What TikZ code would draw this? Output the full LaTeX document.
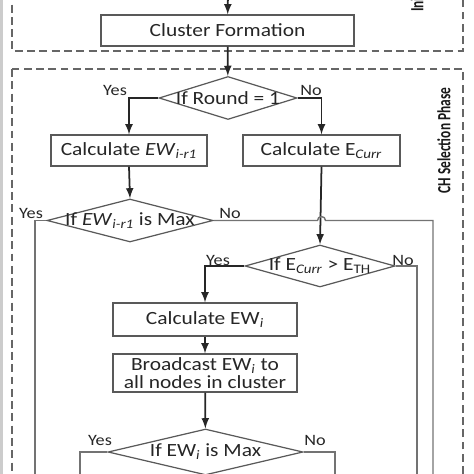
\documentclass[tikz,border=0pt]{standalone}
\usepackage{fontspec}
\setmainfont{Carlito}[FakeStretch=1.15]
\newfontfamily\phasefont{Carlito}[FakeStretch=0.72]
\usetikzlibrary{shapes.geometric, arrows, positioning, calc}

\begin{document}
\begin{tikzpicture}[
  font=\fontsize{10.6}{10.4}\selectfont,
  procbox/.style={draw=black!65, line width=0.7pt, rectangle, minimum height=0.62cm, inner sep=1pt, align=center, text=black!85},
  decision/.style={draw=black!65, line width=0.7pt, diamond, inner sep=0pt, text=black!85},
  yn/.style={font=\fontsize{9}{9}\selectfont, text=black!85},
  phasetag/.style={font=\phasefont\bfseries\fontsize{10.6}{11}\selectfont, text=black!90},
  flow/.style={->, >=latex, line width=1pt, black!85},
  branch/.style={draw=black!55, line width=0.8pt},
  phase/.style={draw=black!60, dash pattern=on 4.5pt off 2.5pt, line width=0.6pt}]
\useasboundingbox (0,0) rectangle (9.48,-9.48);
\fill[black!20] (0,0) rectangle (0.06,-9.48);

% Phase frames
\draw[phase] (0.24,0.4) rectangle (9.26,-1.02);
\draw[phase] (0.24,-1.38) rectangle (9.26,-9.9);
\node[phasetag, rotate=90, anchor=west] (initlbl) at (8.34,-0.36) {Initialization Phase};
\node[phasetag, rotate=90] (chlbl) at (8.88,-2.81) {CH Selection Phase};

% Initialization
\coordinate (topin) at (4.56,0.2);
\node[procbox, minimum width=5.06cm] (cluster) at (4.55,-0.61) {Cluster Formation};

% CH selection
\node[decision, minimum width=2.76cm, minimum height=0.86cm] (round) at (4.56,-1.96) {\makebox[0pt]{If Round = 1}};
\node[procbox, minimum width=3.12cm] (ewprev) at (2.58,-3.01) {Calculate \textit{EW}\textsubscript{\textit{i-r1}}};
\node[procbox, minimum width=3.14cm] (ecurr) at (6.43,-3.01) {Calculate E\textsubscript{\textit{Curr}}};
\node[decision, minimum width=3.32cm, minimum height=0.86cm] (prevmax) at (2.60,-4.41) {\makebox[0pt]{If \textit{EW}\textsubscript{\textit{i-r1}} is Max}};
\node[decision, minimum width=3.0cm, minimum height=0.84cm] (thresh) at (6.40,-5.32) {\makebox[0pt]{If E\textsubscript{\textit{Curr}} > E\textsubscript{TH}}};
\node[procbox, minimum width=3.68cm, minimum height=0.66cm] (ewcur) at (4.10,-6.39) {Calculate EW\textsubscript{\textit{i}}};
\node[procbox, minimum width=3.68cm, minimum height=0.76cm, inner sep=0pt] (bcast) at (4.10,-7.46) {Broadcast EW\textsubscript{\textit{i}} to\\all nodes in cluster};
\node[decision, minimum width=3.9cm, minimum height=0.92cm] (curmax) at (4.11,-9.04) {\makebox[0pt]{If EW\textsubscript{\textit{i}} is Max}};

% Yes / No labels
\node[yn] (roundyes) at (2.30,-1.80) {Yes};
\node[yn] (roundno) at (6.22,-1.80) {No};
\node[yn] (prevyeslbl) at (0.62,-4.26) {Yes};
\node[yn] (prevnolbl) at (4.60,-4.26) {No};
\node[yn] (threshyeslbl) at (4.36,-5.20) {Yes};
\node[yn] (threshnolbl) at (8.06,-5.20) {No};
\node[yn] (curyeslbl) at (2.00,-8.80) {Yes};
\node[yn] (curnolbl) at (6.30,-8.80) {No};

% Arrows
\draw[flow] (topin) -- (cluster);
\draw[flow] (cluster) -- (round);
\draw[flow] (round.west) -| (ewprev.north);
\draw[flow] (round.east) -| (ecurr.north);
\draw[flow] (ewprev.south) -- (prevmax.north);
\draw[flow] (ecurr.south) -- (thresh.north);
\draw[flow] (thresh.west) -| (ewcur.north);
\draw[flow] (ewcur) -- (bcast);
\draw[flow] (bcast) -- (curmax);

% Branches leaving the page
\coordinate (prevyes) at (0.70,-9.8);
\coordinate (prevno) at (8.66,-9.8);
\coordinate (threshno) at (8.34,-9.8);
\coordinate (curyes) at (1.60,-9.8);
\coordinate (curno) at (6.70,-9.8);
\draw[branch] (prevmax.west) -| (prevyes);
\draw[branch] (prevmax.east) -- ($(ecurr.south |- prevmax.east)+(-0.08,0)$) arc[start angle=180, end angle=0, radius=0.08] -| (prevno);
\draw[branch] (thresh.east) -| (threshno);
\draw[branch] (curmax.west) -| (curyes);
\draw[branch] (curmax.east) -| (curno);
\end{tikzpicture}
\end{document}
